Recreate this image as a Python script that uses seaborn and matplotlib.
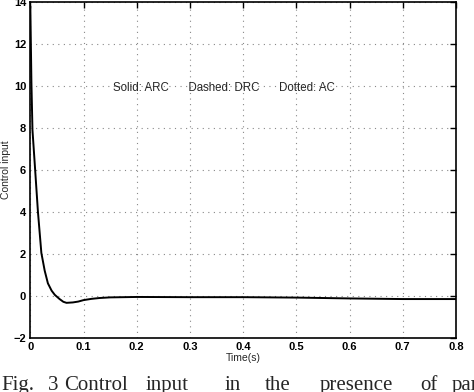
import numpy as np
import pandas as pd
import seaborn as sns
import matplotlib.pyplot as plt

# control input (ARC, DRC and AC lie on top of each other)
time_s = [0.0, 0.002, 0.004, 0.008, 0.0143, 0.0207, 0.027, 0.033, 0.040, 0.046,
          0.055, 0.062, 0.068, 0.080, 0.090, 0.100, 0.115, 0.130, 0.150, 0.200,
          0.300, 0.400, 0.500, 0.600, 0.700, 0.800]
control_input = [13.8, 10.2, 7.9, 6.4, 4.0, 2.05, 1.2, 0.6, 0.25, 0.05,
                 -0.15, -0.28, -0.33, -0.31, -0.27, -0.2, -0.14, -0.1, -0.07, -0.05,
                 -0.06, -0.06, -0.08, -0.12, -0.15, -0.15]

x_ticks = [0, 0.1, 0.2, 0.3, 0.4, 0.5, 0.6, 0.7, 0.8]
x_labels = ["0", "0.1", "0.2", "0.3", "0.4", "0.5", "0.6", "0.7", "0.8"]
y_ticks = [-2, 0, 2, 4, 6, 8, 10, 12, 14]

# caption words and where each one starts (px from the left)
caption_words = ["Fig.", "3", "Control", "input", "in", "the", "presence", "of", "parametric"]
caption_x = [1, 48, 64, 146, 225, 265, 320, 420, 452]

df = pd.DataFrame({"t": time_s, "u": control_input})

sns.set_style("white")
plt.rcParams["font.family"] = ["Liberation Sans", "DejaVu Sans"]

fig = plt.figure(figsize=(4.74, 3.92), dpi=100)
ax = fig.add_axes([0.064, 0.138, 0.898, 0.857])

sns.lineplot(data=df, x="t", y="u", color="black", linewidth=1.4, ax=ax)

ax.set_xlim(0, 0.8)
ax.set_ylim(-2, 14)
ax.set_xticks(x_ticks)
ax.set_xticklabels(x_labels)
ax.set_yticks(y_ticks)
ax.grid(True, color="#888888", linestyle=(0, (1, 4)), linewidth=0.8)
ax.tick_params(direction="in", length=4, width=1, labelsize=8, pad=3,
               top=True, right=True, colors="black")
for lbl in ax.get_xticklabels() + ax.get_yticklabels():
    lbl.set_fontweight("bold")
for sp in ax.spines.values():
    sp.set_color("black")
    sp.set_linewidth(1.2)

ax.set_xlabel("Time(s)", fontsize=7.5, labelpad=1)
ax.set_ylabel("Control input", fontsize=7.5, labelpad=2)

ax.text(0.155, 9.9, "Solid: ARC      Dashed: DRC      Dotted: AC",
        fontsize=8.3, va="center", ha="left")

for word, px in zip(caption_words, caption_x):
    fig.text(px / 474, 1 - 390 / 392, word, fontsize=15,
             family="Liberation Serif", va="baseline", ha="left")

fig.savefig("out.png", dpi=100)
